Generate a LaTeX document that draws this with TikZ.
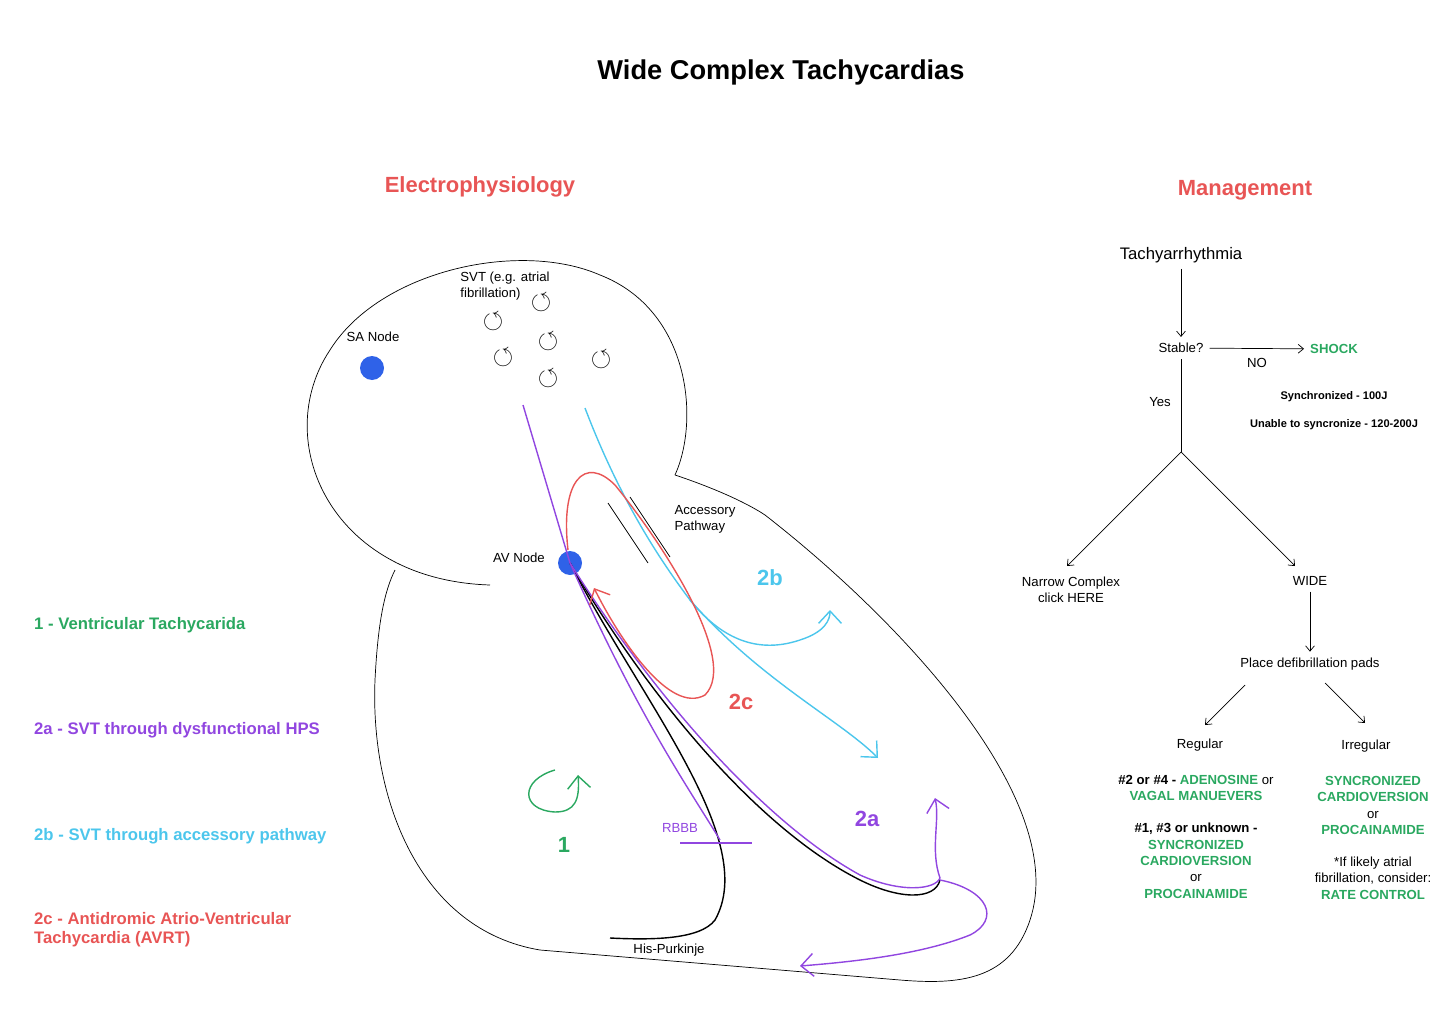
\documentclass[tikz,border=0pt]{standalone}
\usepackage{amssymb}
\usepackage{fontspec}
\setmainfont{Liberation Sans}
\usetikzlibrary{arrows.meta,positioning,calc}
\definecolor{grn}{HTML}{2AA860}
\definecolor{red}{HTML}{E85555}
\definecolor{prp}{HTML}{9146E0}
\definecolor{cyn}{HTML}{4CC6EC}
\definecolor{blu}{HTML}{2F62E8}
\tikzset{
  lbl/.style={font=\fontsize{7.5}{9}\selectfont,align=center},
  sml/.style={font=\fontsize{6.3}{8}\selectfont\bfseries,align=center},
  leg/.style={font=\fontsize{9.5}{11}\selectfont\bfseries,anchor=west,align=left},
  big/.style={font=\fontsize{12.5}{14}\selectfont\bfseries},
  hdr/.style={font=\fontsize{12.5}{14}\selectfont\bfseries,text=red},
  flow/.style={-{Straight Barb[length=3pt,width=5pt]},thin},
  tip/.style={-{Straight Barb[length=7pt,width=13pt]},thick},
  swirl/.style={font=\fontsize{15}{15}\selectfont},
}
\begin{document}
\begin{tikzpicture}[x=0.02cm,y=-0.02cm]
\useasboundingbox (0,0) rectangle (1440,1024);
\node [font=\fontsize{15.5}{18}\selectfont\bfseries] (title) at (781,72) {Wide Complex Tachycardias};
\node [hdr] (ephys) at (480,187) {Electrophysiology};
\node [hdr] (mgmt) at (1245,190) {Management};

% heart outline
\draw (490,585) .. controls (330,580) and (270,440) .. (330,350)
  .. controls (380,270) and (520,240) .. (600,275)
  .. controls (690,310) and (700,420) .. (675,475);
\draw (675,475) .. controls (720,490) and (750,505) .. (765,515)
  .. controls (900,620) and (1070,800) .. (1030,920)
  .. controls (1010,980) and (960,985) .. (900,980) -- (540,950)
  .. controls (420,930) and (370,800) .. (375,680)
  .. controls (378,620) and (385,590) .. (395,570);

% nodes of the heart
\fill [blu] (372,368) circle (12);
\fill [blu] (570,563) circle (12);
\coordinate (av) at (570,563);
\node [lbl] (sa) at (373,337) {SA Node};
\node [lbl,anchor=east] (avl) at (551,558) {AV Node};
\node [lbl,align=left] (svt) at (505,286) {SVT (e.g. atrial\\fibrillation)};
\foreach \p in {(541,303),(493,322),(548,342),(503,358),(601,360),(548,379)}
  \node [swirl] at \p {$\circlearrowleft$};
\node [lbl,align=left] (acc) at (705,519) {Accessory\\Pathway};
\draw (608,503) -- (648,563);
\draw (630,497) -- (670,557);

% his-purkinje
\draw [thick] (av) .. controls (640,700) and (760,840) .. (715,920) .. controls (700,940) and (650,940) .. (610,938);
\draw [thick] (av) .. controls (650,700) and (760,830) .. (860,880) .. controls (900,900) and (935,900) .. (940,880);
\node [lbl] (hp) at (669,950) {His-Purkinje};

% 2a
\draw [prp,thick] (523,405) -- (av) .. controls (640,720) and (690,790) .. (720,840);
\draw [prp,thick] (av) .. controls (650,690) and (760,820) .. (860,875) .. controls (900,893) and (935,890) .. (940,878);
\draw [prp,tip] (940,878) .. controls (930,850) and (940,820) .. (935,798);
\draw [prp,tip] (940,880) .. controls (990,890) and (1000,920) .. (970,935) .. controls (920,955) and (850,962) .. (800,966);
\draw [prp,thick] (680,843) -- (752,843);
\node [lbl,text=prp] (rbbb) at (680,828) {RBBB};

% 2b
\draw [cyn,thick] (585,408) .. controls (620,500) and (660,560) .. (690,600);
\draw [cyn,tip] (690,600) .. controls (730,650) and (770,650) .. (800,640) .. controls (825,632) and (830,620) .. (830,610);
\draw [cyn,tip] (690,600) .. controls (760,680) and (840,720) .. (878,758);

% 2c
\draw [red,tip] (568,550) .. controls (560,480) and (585,455) .. (615,485)
  .. controls (660,540) and (740,660) .. (705,695)
  .. controls (670,715) and (620,640) .. (594,588);

% 1
\draw [grn,tip] (555,770) .. controls (520,780) and (520,810) .. (555,812) .. controls (575,812) and (580,800) .. (578,775);

% labels
\node [big,text=cyn] (l2b) at (770,578) {2b};
\node [big,text=red] (l2c) at (741,702) {2c};
\node [big,text=prp] (l2a) at (867,819) {2a};
\node [big,text=grn] (l1) at (564,845) {1};

% legend
\node [leg,text=grn] (k1) at (28,625) {1 - Ventricular Tachycarida};
\node [leg,text=prp] (k2a) at (28,730) {2a - SVT through dysfunctional HPS};
\node [leg,text=cyn] (k2b) at (28,836) {2b - SVT through accessory pathway};
\node [leg,text=red] (k2c) at (28,930) {2c - Antidromic Atrio-Ventricular\\Tachycardia (AVRT)};

% management
\node [font=\fontsize{9.5}{11}\selectfont] (tachy) at (1181,255) {Tachyarrhythmia};
\node [lbl] (stable) at (1181,348) {Stable?};
\node [sml,text=grn,font=\fontsize{7.5}{9}\selectfont\bfseries] (shock) at (1334,349) {SHOCK};
\node [lbl] (no) at (1257,363) {NO};
\node [sml] (sync) at (1334,397) {Synchronized - 100J};
\node [sml] (unable) at (1334,425) {Unable to syncronize - 120-200J};
\node [lbl] (yes) at (1160,402) {Yes};
\coordinate (split) at (1181,452);
\node [lbl] (narrow) at (1071,590) {Narrow Complex\\click HERE};
\node [lbl] (wide) at (1310,581) {WIDE};
\node [lbl] (pads) at (1310,664) {Place defibrillation pads};
\node [lbl] (reg) at (1200,745) {Regular};
\node [lbl] (irr) at (1366,746) {Irregular};
\node [sml,font=\fontsize{7.5}{9.3}\selectfont,anchor=north] (regtx) at (1196,769)
  {\textbf{\#2 or \#4 - \textcolor{grn}{ADENOSINE}} or\\\textbf{\textcolor{grn}{VAGAL MANUEVERS}}\\[9pt]
   \textbf{\#1, \#3 or unknown -}\\\textbf{\textcolor{grn}{SYNCRONIZED}}\\\textbf{\textcolor{grn}{CARDIOVERSION}}\\or\\\textbf{\textcolor{grn}{PROCAINAMIDE}}};
\node [sml,font=\fontsize{7.5}{9.3}\selectfont,anchor=north] (irrtx) at (1373,770)
  {\textbf{\textcolor{grn}{SYNCRONIZED}}\\\textbf{\textcolor{grn}{CARDIOVERSION}}\\or\\\textbf{\textcolor{grn}{PROCAINAMIDE}}\\[9pt]
   *If likely atrial\\fibrillation, consider:\\\textbf{\textcolor{grn}{RATE CONTROL}}};
\draw [flow] (tachy) -- (stable);
\draw [flow] (stable) -- (shock);
\draw (stable) -- (split);
\draw [flow] (split) -- (1067,566);
\draw [flow] (split) -- (1295,566);
\draw [flow] (wide) -- (pads);
\draw [flow] (1245,685) -- (1205,725);
\draw [flow] (1325,683) -- (1365,723);
\end{tikzpicture}
\end{document}
